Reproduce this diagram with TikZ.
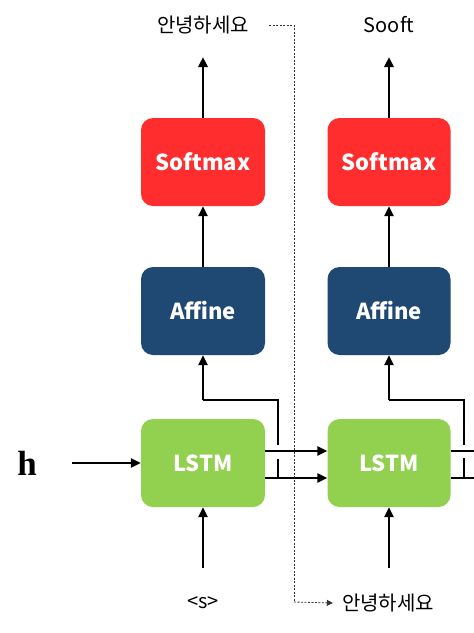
\documentclass[tikz,border=0pt]{standalone}
\usepackage{fontspec}
\setmainfont{Noto Sans CJK KR}
\newfontfamily\hserif{Liberation Serif}
\usetikzlibrary{arrows.meta}
\definecolor{smred}{RGB}{255,45,45}
\definecolor{afblue}{RGB}{31,73,115}
\definecolor{lsgreen}{RGB}{146,208,80}
\tikzset{
  box/.style={rounded corners=12pt, minimum width=124pt, minimum height=88pt, inner sep=0pt,
    text=white, font=\fontsize{22}{26}\selectfont\bfseries},
  lbl/.style={inner sep=0pt, font=\fontsize{20}{24}\selectfont},
  conn/.style={line width=2.6pt},
  arr/.style={conn, -{Triangle[length=10pt,width=9pt]}},
  dsh/.style={line width=0.8pt, dash pattern=on 2pt off 1.5pt, black!80},
  darr/.style={dsh, -{Triangle[length=6pt,width=6pt]}}
}
\begin{document}
\begin{tikzpicture}[x=1pt,y=-1pt]
\useasboundingbox (0,0) rectangle (474,633);
% boxes
\node[box, fill=smred] (sm1) at (203,162) {Softmax};
\node[box, fill=afblue] (af1) at (203,311) {Affine};
\node[box, fill=lsgreen] (ls1) at (203,463) {LSTM};
\node[box, fill=smred, minimum width=123pt] (sm2) at (389,162) {Softmax};
\node[box, fill=afblue, minimum width=123pt] (af2) at (389,311) {Affine};
\node[box, fill=lsgreen, minimum width=123pt] (ls2) at (389,463) {LSTM};
% labels
\node[lbl] (out1) at (203,25) {안녕하세요};
\node[lbl] (out2) at (389,25) {Sooft};
\node[lbl] (in1) at (203,603) {<s>};
\node[lbl] (in2) at (388,603) {안녕하세요};
\node[inner sep=0pt, font=\hserif\bfseries\fontsize{35}{38}\selectfont] (h) at (27,463) {h};
% free-end coordinates
\coordinate (t1) at (203,57);
\coordinate (t2) at (389,57);
\coordinate (b1) at (203,568);
\coordinate (b2) at (389,568);
\coordinate (h0) at (72,463);
\coordinate (d0) at (269,25);
\coordinate (d1) at (294,25);
\coordinate (d2) at (294,602);
% vertical arrows
\draw[arr] (sm1.north) -- (t1);
\draw[arr] (sm2.north) -- (t2);
\draw[arr] (af1.north) -- (sm1.south);
\draw[arr] (af2.north) -- (sm2.south);
\draw[arr] (b1) -- (ls1.south);
\draw[arr] (b2) -- (ls2.south);
\draw[arr] (h0) -- (ls1.west);
% LSTM to LSTM
\draw[arr] (ls1.east |- 0,451) -- (ls2.west |- 0,451);
\draw[arr] (ls1.east |- 0,478) -- (ls2.west |- 0,478);
\draw[conn] (278,478) -- (278,459);
\draw[conn] (278,445) -- (278,400) -- (203,400);
\draw[arr] (203,400) -- (af1.south);
% right side
\draw[conn] (ls2.east |- 0,451) -- (474,451);
\draw[conn] (ls2.east |- 0,478) -- (474,478);
\draw[conn] (464,478) -- (464,458);
\draw[conn] (464,445) -- (464,400) -- (389,400);
\draw[arr] (389,400) -- (af2.south);
% dashed
\draw[dsh] (d0) -- (d1) -- (d2);
\draw[darr] (d2) -- ([xshift=-9pt]in2.west);
\end{tikzpicture}
\end{document}
